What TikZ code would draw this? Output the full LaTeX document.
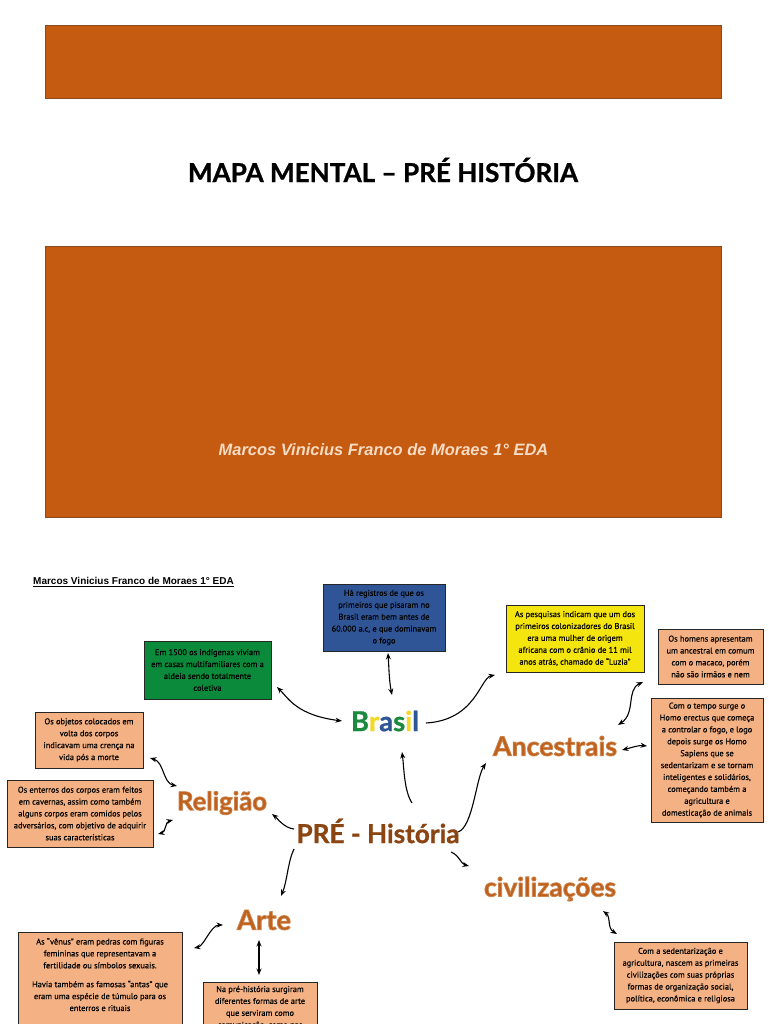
\documentclass[tikz,border=0pt]{standalone}
\usepackage{fontspec}
\usepackage{graphicx}
\usetikzlibrary{arrows.meta}
\setmainfont[FakeBold=0.35]{PT Sans}
\newfontfamily\arial{Liberation Sans}
\newfontfamily\headfont[BoldFeatures={FakeBold=1}]{Lato}
\newfontfamily\glowfont{Lato}
\definecolor{barc}{HTML}{C55A11}
\definecolor{barline}{HTML}{8A4A1E}
\definecolor{boxo}{HTML}{F4B183}
\definecolor{boxg}{HTML}{0B8A3C}
\definecolor{boxb}{HTML}{2F5597}
\definecolor{boxy}{HTML}{F5E50F}
\definecolor{headc}{HTML}{BF5F1C}
\definecolor{prec}{HTML}{8B4513}
\definecolor{subc}{HTML}{F8DCC4}
\definecolor{brg}{HTML}{1B8A3E}
\definecolor{bry}{HTML}{F3D923}
\definecolor{brb}{HTML}{2F5597}
\newcommand{\fitw}[2]{\resizebox{#1pt}{!}{#2}}
\newcommand{\headtxt}[2]{\fitw{#1}{\headfont\bfseries\fontsize{30}{30}\selectfont #2}}
% glowing heading: one text, filled and outlined in a tan
\newcommand{\glowtxt}[2]{\fitw{#1}{\glowfont\bfseries\fontsize{30}{30}\selectfont\special{pdf:code 2 Tr 0.9 w 0.80 0.52 0.30 RG}#2\special{pdf:code 0 Tr}}}
\tikzset{
  bar/.style={fill=barc,draw=barline,line width=0.7pt,inner sep=0pt},
  mapbox/.style={draw=black!85,line width=0.9pt,inner sep=1.5pt,align=center,text=black,font=\fontsize{8.4}{11.9}\selectfont},
  orange/.style={mapbox,fill=boxo},
  headnode/.style={inner sep=0pt,text=headc},
  link/.style={line width=1.1pt,black},
  one/.style={link,-{Stealth[length=6.5pt,width=5pt]}},
  both/.style={link,{Stealth[length=6.5pt,width=5pt]}-{Stealth[length=6.5pt,width=5pt]}}
}
\begin{document}
\begin{tikzpicture}[x=1pt,y=-1pt]
\useasboundingbox (0,0) rectangle (768,1024);
\clip (0,0) rectangle (768,1024);
\fill[white] (0,0) rectangle (768,1024);
\node[bar,minimum width=676pt,minimum height=73pt] (topbar) at (383,61.5) {};
\node[bar,minimum width=676pt,minimum height=271pt] (midbar) at (383,381.5) {};
\node[inner sep=0pt] (title) at (383,170) {\fitw{390}{\headfont\bfseries\fontsize{28}{28}\selectfont MAPA MENTAL – PRÉ HISTÓRIA}};
\node[inner sep=0pt,text=subc] (sub) at (383.5,450) {\arial\bfseries\itshape\fontsize{16.45}{18}\selectfont Marcos Vinicius Franco de Moraes 1° EDA};
\node[inner sep=0pt,anchor=west] (author) at (33,581) {\arial\bfseries\fontsize{10}{12}\selectfont Marcos Vinicius Franco de Moraes 1° EDA};
\draw[line width=0.7pt] (author.base west) ++(0,1.3) -- ++(201,0);
% boxes
\node[mapbox,fill=boxb,minimum width=122pt,minimum height=67pt] (blue) at (384,617.5) {Há registros de que os\\primeiros que pisaram no\\Brasil eram bem antes de\\60.000 a.c, e que dominavam\\o fogo};
\node[mapbox,fill=boxg,minimum width=127pt,minimum height=58pt] (green) at (207.5,670) {Em 1500 os indígenas viviam\\em casas multifamiliares com a\\aldeia sendo totalmente\\coletiva};
\node[mapbox,fill=boxy,minimum width=138pt,minimum height=67pt] (yellow) at (575,638.5) {As pesquisas indicam que um dos\\primeiros colonizadores do Brasil\\era uma mulher de origem\\africana com o crânio de 11 mil\\anos atrás, chamado de “Luzia”};
\node[orange,minimum width=105pt,minimum height=55pt] (ohom) at (710.5,656.5) {Os homens apresentam\\um ancestral em comum\\com o macaco, porém\\não são irmãos e nem};
\node[orange,minimum width=112pt,minimum height=124pt] (otem) at (707,760) {Com o tempo surge o\\Homo erectus que começa\\a controlar o fogo, e logo\\depois surge os Homo\\Sapiens que se\\sedentarizam e se tornam\\inteligentes e solidários,\\começando também a\\agricultura e\\domesticação de animais};
\node[orange,minimum width=108pt,minimum height=56pt] (obj) at (89,740) {Os objetos colocados em\\volta dos corpos\\indicavam uma crença na\\vida pós a morte};
\node[orange,minimum width=146pt,minimum height=67pt] (ent) at (80,813.5) {Os enterros dos corpos eram feitos\\em cavernas, assim como também\\alguns corpos eram comidos pelos\\adversários, com objetivo de adquirir\\suas características};
\node[orange,anchor=north,minimum width=164pt,inner ysep=5.5pt] (venus) at (100,932) {As “vênus” eram pedras com figuras\\femininas que representavam a\\fertilidade ou símbolos sexuais.\\[7pt]Havia também as famosas “antas” que\\eram uma espécie de túmulo para os\\enterros e rituais\\[30pt]~};
\node[orange,anchor=north,minimum width=114pt,inner ysep=3.5pt] (napre) at (260,982) {Na pré-história surgiram\\diferentes formas de arte\\que serviram como\\comunicação, como nas\\[20pt]~};
\node[orange,minimum width=133pt,minimum height=67pt] (civbox) at (680.5,975.5) {Com a sedentarização e\\agricultura, nascem as primeiras\\civilizações com suas próprias\\formas de organização social,\\política, econômica e religiosa};
% headings
\node[inner sep=0pt] (brasil) at (385,721) {\fitw{68}{\headfont\bfseries\fontsize{24}{24}\selectfont\textcolor{brg}{B}\textcolor{bry}{r}\textcolor{brb}{a}\textcolor{brg}{s}\textcolor{bry}{i}\textcolor{brb}{l}}};
\node[inner sep=0pt,text=prec] (pre) at (378,831) {\headtxt{163}{PRÉ - História}};
\node[headnode] (anc) at (555,746) {\glowtxt{124}{Ancestrais}};
\node[headnode] (rel) at (222,803) {\glowtxt{90}{Religião}};
\node[headnode] (civ) at (550,889) {\glowtxt{132}{civilizações}};
\node[headnode] (arte) at (264,920) {\glowtxt{54}{Arte}};
% connectors
\draw[both] ([shift={(4,35.5)}]blue.center) .. controls +(1,15) and +(-3,-15) .. ([shift={(7,-26)}]brasil.center);
\draw[both] ([shift={(69.5,17)}]green.center) .. controls +(12,12) and +(-45,-6) .. ([shift={(-43,0)}]brasil.center);
\draw[one] ([shift={(41,2)}]brasil.center) .. controls +(50,-3) and +(-15,3) .. ([shift={(-80,36.5)}]yellow.center);
\draw[one] ([shift={(34,-28)}]pre.center) .. controls +(-8,-12) and +(2,15) .. ([shift={(17,31)}]brasil.center);
\draw[one] ([shift={(80,1)}]pre.center) .. controls +(15,-5) and +(-10,15) .. ([shift={(-69,17)}]anc.center);
\draw[both] ([shift={(63,-21)}]anc.center) .. controls +(18,-12) and +(-17,8) .. ([shift={(-67.5,25.5)}]ohom.center);
\draw[both] ([shift={(67,4)}]anc.center) .. controls +(8,-2) and +(-8,-1) .. ([shift={(-60,-14)}]otem.center);
\draw[one] ([shift={(73,21)}]pre.center) .. controls +(8,3) and +(-8,-2) .. ([shift={(-81,-23)}]civ.center);
\draw[both] ([shift={(53,22)}]civ.center) .. controls +(8,6) and +(-10,-6) .. ([shift={(-63.5,-41.5)}]civbox.center);
\draw[one] ([shift={(-84,-2)}]pre.center) .. controls +(-10,-1) and +(5,4) .. ([shift={(50,11)}]rel.center);
\draw[one] ([shift={(-84,18)}]pre.center) .. controls +(-6,12) and +(6,-14) .. ([shift={(17,-24)}]arte.center);
\draw[both] ([shift={(61,18)}]obj.center) .. controls +(14,4) and +(-14,-3) .. ([shift={(-45,-17)}]rel.center);
\draw[both] ([shift={(78,20.5)}]ent.center) .. controls +(8,-2) and +(-8,2) .. ([shift={(-49,17)}]rel.center);
\draw[both] ([shift={(-41,5)}]arte.center) .. controls +(-12,0) and +(10,-2) .. ([shift={(94,16)}]venus.north);
\draw[both] ([shift={(-5,20)}]arte.center) -- ([shift={(-1,-7)}]napre.north);
\end{tikzpicture}
\end{document}
